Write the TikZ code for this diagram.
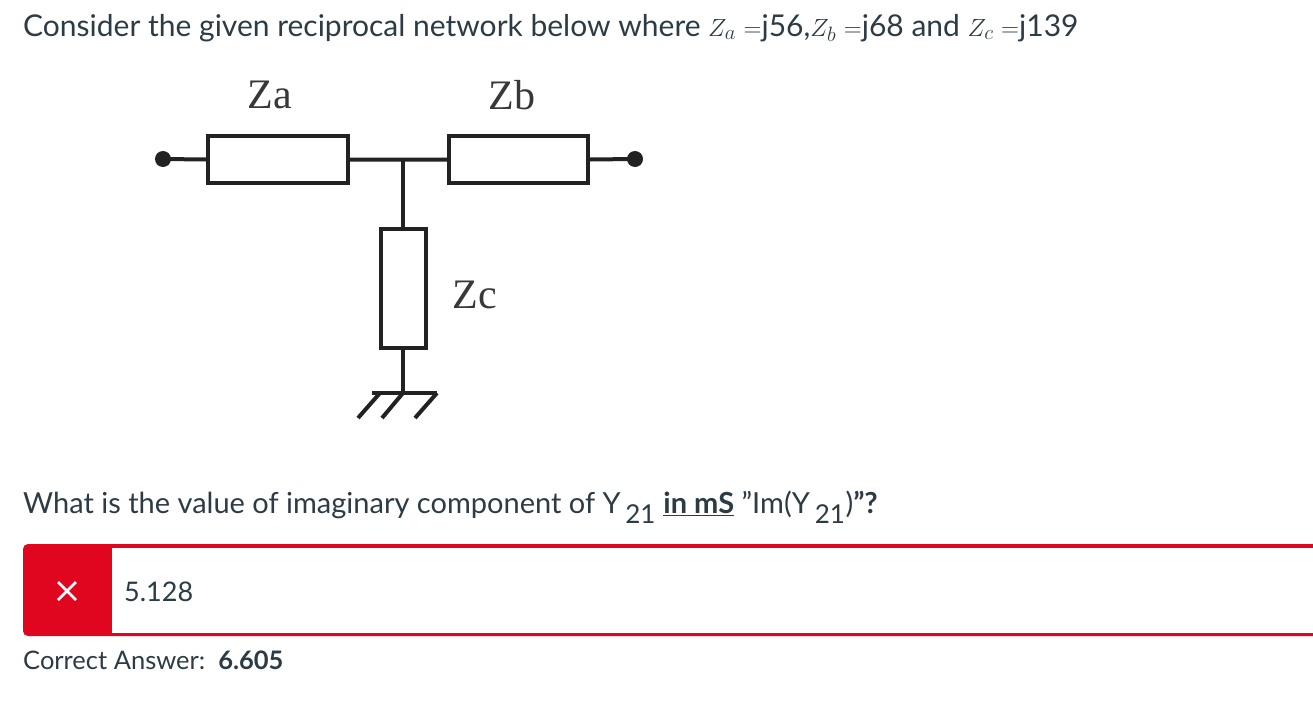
\documentclass[tikz,border=0pt]{standalone}
\usepackage{fontspec}
\setmainfont{Lato}
\newfontfamily\serifz{Liberation Serif}
\definecolor{txt}{HTML}{2D3B45}
\definecolor{wrong}{HTML}{E0061F}
\definecolor{wire}{HTML}{222222}
\tikzset{
  res/.style={draw=wire,line width=4pt,fill=white,inner sep=0pt},
  lab/.style={font=\serifz\fontsize{42}{42}\selectfont,text=black!78},
  txtn/.style={anchor=west,inner sep=0pt,font=\fontsize{29}{32}\selectfont,text=txt},
  w/.style={draw=wire,line width=4pt}
}
\begin{document}
\begin{tikzpicture}[x=1pt,y=-1pt]
\useasboundingbox (0,0) rectangle (1313,707);
\node[txtn,font=\fontsize{30}{34}\selectfont] (title) at (23,28) {Consider the given reciprocal network below where $Z_a$ $=$j56,$Z_b$ $=$j68 and $Z_c$ $=$j139};
% circuit
\coordinate (L) at (163,159);
\coordinate (R) at (635,159);
\coordinate (J) at (403,159);
\coordinate (G) at (403,393);
\node[res,minimum width=140pt,minimum height=47pt] (za) at (278,159.5) {};
\node[res,minimum width=139pt,minimum height=47pt] (zb) at (518.5,159.5) {};
\node[res,minimum width=45pt,minimum height=119pt] (zc) at (403,288.5) {};
\draw[w] (L) -- (za.west) (za.east) -- (zb.west) (zb.east) -- (R);
\draw[w] (J) -- (zc.north) (zc.south) -- (G);
\fill[wire] (L) circle (8pt) (R) circle (8pt);
\draw[w] (372,393) -- (437,393);
\draw[w] (380,393) -- (358,418) (403,393) -- (382,418) (437,393) -- (415,418);
\node[lab] (la) at (270,95) {Za};
\node[lab] (lb) at (512,95) {Zb};
\node[lab] (lc) at (475,295) {Zc};
% question
\node[txtn] (q) at (23,507) {What is the value of imaginary component of Y\,$_{\mbox{\fontsize{26}{26}\selectfont 21}}$ \underline{\textbf{in mS}} \symbol{34}Im(Y\,$_{\mbox{\fontsize{26}{26}\selectfont 21}}$)\textbf{\symbol{34}?}};
% answer box
\fill[wrong,rounded corners=5pt] (23,544) rectangle (1340,636);
\fill[white] (112,547.5) rectangle (1340,632.5);
\node[inner sep=0pt] (x) at (67,591) {};
\draw[white,line width=2.5pt] (x) ++(-9,-9) -- ++(18,18) (x) ++(-9,9) -- ++(18,-18);
\node[txtn,font=\fontsize{27}{30}\selectfont] (ans) at (124,592) {5.128};
\node[txtn,font=\fontsize{25.5}{28}\selectfont] (corr) at (23,660) {Correct Answer:\ \ \textbf{6.605}};
\end{tikzpicture}
\end{document}
